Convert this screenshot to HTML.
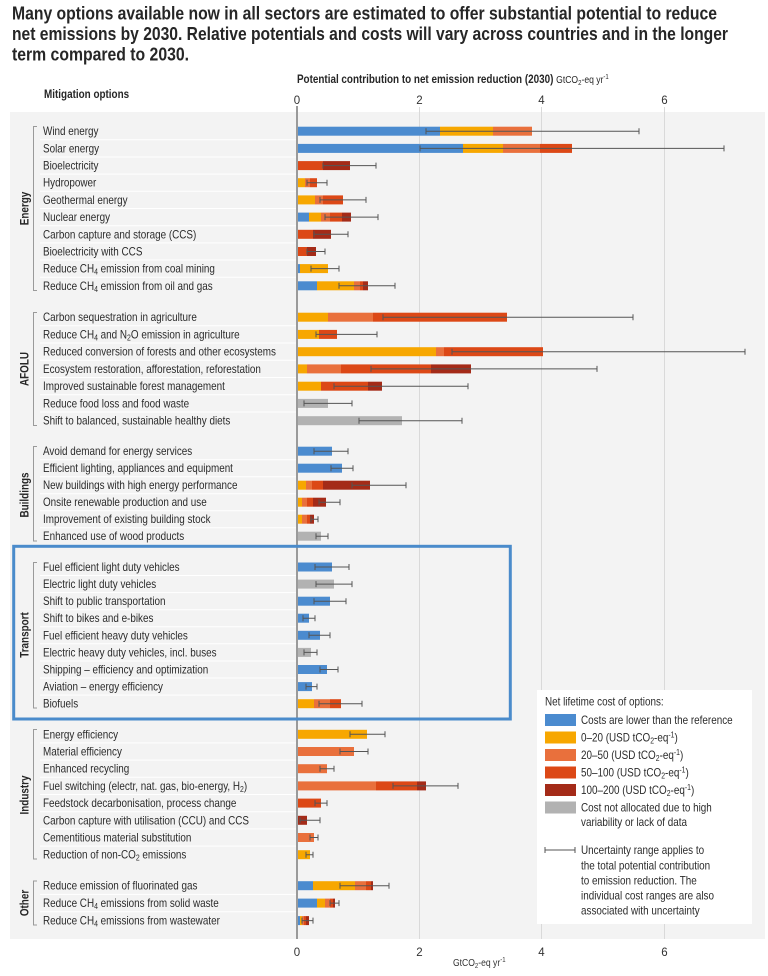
<!DOCTYPE html>
<html>
<head>
<meta charset="utf-8">
<style>
  html,body{margin:0;padding:0;background:#fff;}
  svg{display:block;}
  text{font-family:"Liberation Sans", "DejaVu Sans", sans-serif;}
</style>
</head>
<body>
<svg width="768" height="976" viewBox="0 0 768 976" xmlns="http://www.w3.org/2000/svg">
  <rect x="0" y="0" width="768" height="976" fill="#ffffff"/>

  <!-- Title -->
  <g font-weight="bold" font-size="18" fill="#262626">
    <text x="12" y="19.5" textLength="705" lengthAdjust="spacingAndGlyphs">Many options available now in all sectors are estimated to offer substantial potential to reduce</text>
    <text x="12" y="40" textLength="716" lengthAdjust="spacingAndGlyphs">net emissions by 2030. Relative potentials and costs will vary across countries and in the longer</text>
    <text x="12" y="60.5" textLength="177" lengthAdjust="spacingAndGlyphs">term compared to 2030.</text>
  </g>

  <!-- Panel -->
  <rect x="10" y="112" width="755" height="827" fill="#f3f3f3"/>

  <!-- row separators -->
  <g stroke="#ffffff" stroke-width="1">
    <line x1="40" y1="139.8" x2="296" y2="139.8"/><line x1="40" y1="157" x2="296" y2="157"/><line x1="40" y1="174.1" x2="296" y2="174.1"/><line x1="40" y1="191.3" x2="296" y2="191.3"/><line x1="40" y1="208.5" x2="296" y2="208.5"/><line x1="40" y1="225.7" x2="296" y2="225.7"/><line x1="40" y1="242.9" x2="296" y2="242.9"/><line x1="40" y1="260" x2="296" y2="260"/><line x1="40" y1="277.2" x2="296" y2="277.2"/>
    <line x1="40" y1="325.8" x2="296" y2="325.8"/><line x1="40" y1="343" x2="296" y2="343"/><line x1="40" y1="360.3" x2="296" y2="360.3"/><line x1="40" y1="377.5" x2="296" y2="377.5"/><line x1="40" y1="394.8" x2="296" y2="394.8"/><line x1="40" y1="412" x2="296" y2="412"/>
    <line x1="40" y1="459.7" x2="296" y2="459.7"/><line x1="40" y1="476.7" x2="296" y2="476.7"/><line x1="40" y1="493.7" x2="296" y2="493.7"/><line x1="40" y1="510.7" x2="296" y2="510.7"/><line x1="40" y1="527.7" x2="296" y2="527.7"/>
    <line x1="40" y1="575.5" x2="296" y2="575.5"/><line x1="40" y1="592.6" x2="296" y2="592.6"/><line x1="40" y1="609.7" x2="296" y2="609.7"/><line x1="40" y1="626.7" x2="296" y2="626.7"/><line x1="40" y1="643.8" x2="296" y2="643.8"/><line x1="40" y1="661" x2="296" y2="661"/><line x1="40" y1="678" x2="296" y2="678"/><line x1="40" y1="695.1" x2="296" y2="695.1"/>
    <line x1="40" y1="742.9" x2="296" y2="742.9"/><line x1="40" y1="760.1" x2="296" y2="760.1"/><line x1="40" y1="777.3" x2="296" y2="777.3"/><line x1="40" y1="794.5" x2="296" y2="794.5"/><line x1="40" y1="811.7" x2="296" y2="811.7"/><line x1="40" y1="828.9" x2="296" y2="828.9"/><line x1="40" y1="846.1" x2="296" y2="846.1"/>
    <line x1="40" y1="894.4" x2="296" y2="894.4"/><line x1="40" y1="911.8" x2="296" y2="911.8"/>
  </g>

  <!-- Gridlines -->
  <g stroke="#d9d9d9" stroke-width="1">
    <line x1="419.5" y1="107" x2="419.5" y2="939"/>
    <line x1="541.5" y1="107" x2="541.5" y2="939"/>
    <line x1="664.5" y1="107" x2="664.5" y2="939"/>
  </g>

  <!-- Header texts -->
  <g transform="scale(0.86 1)" fill="#262626">
    <text x="51.2" y="98" font-size="11.5" font-weight="bold">Mitigation options</text>
    <text x="345.3" y="83" font-size="11.5" font-weight="bold">Potential contribution to net emission reduction (2030) <tspan font-weight="normal" font-size="10">GtCO<tspan font-size="7" dy="2">2</tspan><tspan dy="-2">-eq yr</tspan><tspan font-size="7" dy="-4">-1</tspan></tspan></text>
  </g>
  <g font-size="11.5" fill="#333" text-anchor="middle">
    <text x="297" y="104">0</text>
    <text x="419.5" y="104">2</text>
    <text x="541.5" y="104">4</text>
    <text x="664.5" y="104">6</text>
    <text x="297" y="956">0</text>
    <text x="419.5" y="956">2</text>
    <text x="541.5" y="956">4</text>
    <text x="664.5" y="956">6</text>
  </g>
  <g transform="scale(0.86 1)" fill="#333" font-size="10">
    <text x="526.7" y="966">GtCO<tspan font-size="7" dy="2">2</tspan><tspan dy="-2">-eq yr</tspan><tspan font-size="7" dy="-4">-1</tspan></text>
  </g>

  <!-- Bars -->
  <!-- Energy -->
  <g>
    <rect x="297" y="126.7" width="143" height="9" fill="#4b8bcf"/><rect x="440" y="126.7" width="53" height="9" fill="#f7a700"/><rect x="493" y="126.7" width="39" height="9" fill="#e9703c"/>
    <rect x="297" y="143.9" width="166" height="9" fill="#4b8bcf"/><rect x="463" y="143.9" width="40" height="9" fill="#f7a700"/><rect x="503" y="143.9" width="37" height="9" fill="#e9703c"/><rect x="540" y="143.9" width="32" height="9" fill="#dc4816"/>
    <rect x="297" y="161.1" width="26" height="9" fill="#dc4816"/><rect x="323" y="161.1" width="27" height="9" fill="#a42b18"/>
    <rect x="297" y="178.2" width="8" height="9" fill="#f7a700"/><rect x="305" y="178.2" width="5" height="9" fill="#e9703c"/><rect x="310" y="178.2" width="7" height="9" fill="#dc4816"/>
    <rect x="297" y="195.4" width="18" height="9" fill="#f7a700"/><rect x="315" y="195.4" width="8" height="9" fill="#e9703c"/><rect x="323" y="195.4" width="20" height="9" fill="#dc4816"/>
    <rect x="297" y="212.6" width="12" height="9" fill="#4b8bcf"/><rect x="309" y="212.6" width="12" height="9" fill="#f7a700"/><rect x="321" y="212.6" width="9" height="9" fill="#e9703c"/><rect x="330" y="212.6" width="12" height="9" fill="#dc4816"/><rect x="342" y="212.6" width="9" height="9" fill="#a42b18"/>
    <rect x="297" y="229.8" width="16" height="9" fill="#dc4816"/><rect x="313" y="229.8" width="18" height="9" fill="#a42b18"/>
    <rect x="297" y="247" width="10" height="9" fill="#dc4816"/><rect x="307" y="247" width="9" height="9" fill="#a42b18"/>
    <rect x="297" y="264.1" width="3" height="9" fill="#4b8bcf"/><rect x="300" y="264.1" width="28" height="9" fill="#f7a700"/>
    <rect x="297" y="281.3" width="20" height="9" fill="#4b8bcf"/><rect x="317" y="281.3" width="37" height="9" fill="#f7a700"/><rect x="354" y="281.3" width="6" height="9" fill="#e9703c"/><rect x="360" y="281.3" width="3" height="9" fill="#dc4816"/><rect x="363" y="281.3" width="5" height="9" fill="#a42b18"/>
  </g>
  <!-- AFOLU -->
  <g>
    <rect x="297" y="312.7" width="31" height="9" fill="#f7a700"/><rect x="328" y="312.7" width="45" height="9" fill="#e9703c"/><rect x="373" y="312.7" width="134" height="9" fill="#dc4816"/>
    <rect x="297" y="329.9" width="22" height="9" fill="#f7a700"/><rect x="319" y="329.9" width="18" height="9" fill="#dc4816"/>
    <rect x="297" y="347.2" width="139" height="9" fill="#f7a700"/><rect x="436" y="347.2" width="8" height="9" fill="#e9703c"/><rect x="444" y="347.2" width="99" height="9" fill="#dc4816"/>
    <rect x="297" y="364.4" width="10" height="9" fill="#f7a700"/><rect x="307" y="364.4" width="34" height="9" fill="#e9703c"/><rect x="341" y="364.4" width="90" height="9" fill="#dc4816"/><rect x="431" y="364.4" width="40" height="9" fill="#a42b18"/>
    <rect x="297" y="381.7" width="24" height="9" fill="#f7a700"/><rect x="321" y="381.7" width="47" height="9" fill="#dc4816"/><rect x="368" y="381.7" width="14" height="9" fill="#a42b18"/>
    <rect x="297" y="398.9" width="31" height="9" fill="#b2b2b2"/>
    <rect x="297" y="416.2" width="105" height="9" fill="#b2b2b2"/>
  </g>
  <!-- Buildings -->
  <g>
    <rect x="297" y="446.7" width="35" height="9" fill="#4b8bcf"/>
    <rect x="297" y="463.7" width="45" height="9" fill="#4b8bcf"/>
    <rect x="297" y="480.7" width="9" height="9" fill="#f7a700"/><rect x="306" y="480.7" width="6" height="9" fill="#e9703c"/><rect x="312" y="480.7" width="11" height="9" fill="#dc4816"/><rect x="323" y="480.7" width="47" height="9" fill="#a42b18"/>
    <rect x="297" y="497.7" width="5" height="9" fill="#f7a700"/><rect x="302" y="497.7" width="5" height="9" fill="#e9703c"/><rect x="307" y="497.7" width="6" height="9" fill="#dc4816"/><rect x="313" y="497.7" width="13" height="9" fill="#a42b18"/>
    <rect x="297" y="514.7" width="5" height="9" fill="#f7a700"/><rect x="302" y="514.7" width="5" height="9" fill="#e9703c"/><rect x="307" y="514.7" width="3" height="9" fill="#dc4816"/><rect x="310" y="514.7" width="4" height="9" fill="#a42b18"/>
    <rect x="297" y="531.7" width="24" height="9" fill="#b2b2b2"/>
  </g>
  <!-- Transport -->
  <g>
    <rect x="297" y="562.5" width="35" height="9" fill="#4b8bcf"/>
    <rect x="297" y="579.6" width="37" height="9" fill="#b2b2b2"/>
    <rect x="297" y="596.7" width="33" height="9" fill="#4b8bcf"/>
    <rect x="297" y="613.7" width="12" height="9" fill="#4b8bcf"/>
    <rect x="297" y="630.8" width="23" height="9" fill="#4b8bcf"/>
    <rect x="297" y="647.9" width="14" height="9" fill="#b2b2b2"/>
    <rect x="297" y="665" width="30" height="9" fill="#4b8bcf"/>
    <rect x="297" y="682.1" width="15" height="9" fill="#4b8bcf"/>
    <rect x="297" y="699.2" width="17" height="9" fill="#f7a700"/><rect x="314" y="699.2" width="16" height="9" fill="#e9703c"/><rect x="330" y="699.2" width="11" height="9" fill="#dc4816"/>
  </g>
  <!-- Industry -->
  <g>
    <rect x="297" y="729.8" width="70" height="9" fill="#f7a700"/>
    <rect x="297" y="747" width="57" height="9" fill="#e9703c"/>
    <rect x="297" y="764.2" width="30" height="9" fill="#e9703c"/>
    <rect x="297" y="781.4" width="79" height="9" fill="#e9703c"/><rect x="376" y="781.4" width="41" height="9" fill="#dc4816"/><rect x="417" y="781.4" width="9" height="9" fill="#a42b18"/>
    <rect x="297" y="798.6" width="24" height="9" fill="#dc4816"/>
    <rect x="297" y="815.8" width="10" height="9" fill="#a42b18"/>
    <rect x="297" y="833" width="17" height="9" fill="#e9703c"/>
    <rect x="297" y="850.2" width="13" height="9" fill="#f7a700"/>
  </g>
  <!-- Other -->
  <g>
    <rect x="297" y="881.2" width="16" height="9" fill="#4b8bcf"/><rect x="313" y="881.2" width="42" height="9" fill="#f7a700"/><rect x="355" y="881.2" width="11" height="9" fill="#e9703c"/><rect x="366" y="881.2" width="5" height="9" fill="#dc4816"/><rect x="371" y="881.2" width="2" height="9" fill="#a42b18"/>
    <rect x="297" y="898.6" width="20" height="9" fill="#4b8bcf"/><rect x="317" y="898.6" width="8" height="9" fill="#f7a700"/><rect x="325" y="898.6" width="5" height="9" fill="#e9703c"/><rect x="330" y="898.6" width="3" height="9" fill="#dc4816"/><rect x="333" y="898.6" width="2" height="9" fill="#a42b18"/>
    <rect x="297" y="916.1" width="3" height="9" fill="#4b8bcf"/><rect x="300" y="916.1" width="2" height="9" fill="#f7a700"/><rect x="302" y="916.1" width="2" height="9" fill="#e9703c"/><rect x="304" y="916.1" width="2" height="9" fill="#dc4816"/><rect x="306" y="916.1" width="3" height="9" fill="#a42b18"/>
  </g>

  <!-- Zero axis -->
  <line x1="297" y1="106" x2="297" y2="939" stroke="#9a9a9a" stroke-width="2"/>

  <!-- Error bars -->
  <g stroke="#555" stroke-width="1" fill="none">
    <path d="M426 131.2H639M426 128.2V134.2M639 128.2V134.2"/>
    <path d="M420 148.4H724M420 145.4V151.4M724 145.4V151.4"/>
    <path d="M323 165.6H376M323 162.6V168.6M376 162.6V168.6"/>
    <path d="M307 182.7H327M307 179.7V185.7M327 179.7V185.7"/>
    <path d="M320 199.9H366M320 196.9V202.9M366 196.9V202.9"/>
    <path d="M325 217.1H378M325 214.1V220.1M378 214.1V220.1"/>
    <path d="M314 234.3H348M314 231.3V237.3M348 231.3V237.3"/>
    <path d="M307 251.5H325M307 248.5V254.5M325 248.5V254.5"/>
    <path d="M311 268.6H339M311 265.6V271.6M339 265.6V271.6"/>
    <path d="M339 285.8H395M339 282.8V288.8M395 282.8V288.8"/>

    <path d="M383 317.2H633M383 314.2V320.2M633 314.2V320.2"/>
    <path d="M316 334.4H377M316 331.4V337.4M377 331.4V337.4"/>
    <path d="M452 351.7H745M452 348.7V354.7M745 348.7V354.7"/>
    <path d="M371 368.9H597M371 365.9V371.9M597 365.9V371.9"/>
    <path d="M334 386.2H468M334 383.2V389.2M468 383.2V389.2"/>
    <path d="M304 403.4H352M304 400.4V406.4M352 400.4V406.4"/>
    <path d="M359 420.7H462M359 417.7V423.7M462 417.7V423.7"/>

    <path d="M314 451.2H348M314 448.2V454.2M348 448.2V454.2"/>
    <path d="M331 468.2H353M331 465.2V471.2M353 465.2V471.2"/>
    <path d="M352 485.2H406M352 482.2V488.2M406 482.2V488.2"/>
    <path d="M319 502.2H340M319 499.2V505.2M340 499.2V505.2"/>
    <path d="M311 519.2H318M311 516.2V522.2M318 516.2V522.2"/>
    <path d="M316 536.2H328M316 533.2V539.2M328 533.2V539.2"/>

    <path d="M315 567H349M315 564V570M349 564V570"/>
    <path d="M316 584.1H352M316 581.1V587.1M352 581.1V587.1"/>
    <path d="M314 601.2H346M314 598.2V604.2M346 598.2V604.2"/>
    <path d="M303 618.2H315M303 615.2V621.2M315 615.2V621.2"/>
    <path d="M309 635.3H330M309 632.3V638.3M330 632.3V638.3"/>
    <path d="M304 652.4H317M304 649.4V655.4M317 649.4V655.4"/>
    <path d="M320 669.5H338M320 666.5V672.5M338 666.5V672.5"/>
    <path d="M306 686.6H317M306 683.6V689.6M317 683.6V689.6"/>
    <path d="M319 703.7H362M319 700.7V706.7M362 700.7V706.7"/>

    <path d="M350 734.3H385M350 731.3V737.3M385 731.3V737.3"/>
    <path d="M340 751.5H368M340 748.5V754.5M368 748.5V754.5"/>
    <path d="M320 768.7H334M320 765.7V771.7M334 765.7V771.7"/>
    <path d="M393 785.9H458M393 782.9V788.9M458 782.9V788.9"/>
    <path d="M315 803.1H327M315 800.1V806.1M327 800.1V806.1"/>
    <path d="M300 820.3H320M300 817.3V823.3M320 817.3V823.3"/>
    <path d="M310 837.5H318M310 834.5V840.5M318 834.5V840.5"/>
    <path d="M306 854.7H313M306 851.7V857.7M313 851.7V857.7"/>

    <path d="M340 885.7H389M340 882.7V888.7M389 882.7V888.7"/>
    <path d="M330 903.1H339M330 900.1V906.1M339 900.1V906.1"/>
    <path d="M302 920.6H313M302 917.6V923.6M313 917.6V923.6"/>
  </g>

  <!-- Brackets -->
  <g stroke="#9a9a9a" stroke-width="1" fill="none">
    <path d="M37 126.5H33.5V290.5H37"/>
    <path d="M37 312.5H33.5V425.5H37"/>
    <path d="M37 446.5H33.5V541H37"/>
    <path d="M37 562.5H33.5V708H37"/>
    <path d="M37 729.5H33.5V859H37"/>
    <path d="M37 881H33.5V925H37"/>
  </g>

  <!-- Sector labels -->
  <g font-size="11.5" font-weight="bold" fill="#262626" text-anchor="middle">
    <text transform="translate(28.5,208.5) rotate(-90) scale(0.86,1)">Energy</text>
    <text transform="translate(28.5,369) rotate(-90) scale(0.86,1)">AFOLU</text>
    <text transform="translate(28.5,495) rotate(-90) scale(0.86,1)">Buildings</text>
    <text transform="translate(28.5,635) rotate(-90) scale(0.86,1)">Transport</text>
    <text transform="translate(28.5,795) rotate(-90) scale(0.86,1)">Industry</text>
    <text transform="translate(28.5,903) rotate(-90) scale(0.86,1)">Other</text>
  </g>

  <!-- Row labels -->
  <g transform="scale(0.86 1)" font-size="11.5" fill="#2b2b2b">
    <text x="50" y="135.2">Wind energy</text>
    <text x="50" y="152.4">Solar energy</text>
    <text x="50" y="169.6">Bioelectricity</text>
    <text x="50" y="186.7">Hydropower</text>
    <text x="50" y="203.9">Geothermal energy</text>
    <text x="50" y="221.1">Nuclear energy</text>
    <text x="50" y="238.3">Carbon capture and storage (CCS)</text>
    <text x="50" y="255.5">Bioelectricity with CCS</text>
    <text x="50" y="272.6">Reduce CH<tspan font-size="8" dy="2">4</tspan><tspan dy="-2"> emission from coal mining</tspan></text>
    <text x="50" y="289.8">Reduce CH<tspan font-size="8" dy="2">4</tspan><tspan dy="-2"> emission from oil and gas</tspan></text>

    <text x="50" y="321.2">Carbon sequestration in agriculture</text>
    <text x="50" y="338.4">Reduce CH<tspan font-size="8" dy="2">4</tspan><tspan dy="-2"> and N</tspan><tspan font-size="8" dy="2">2</tspan><tspan dy="-2">O emission in agriculture</tspan></text>
    <text x="50" y="355.7">Reduced conversion of forests and other ecosystems</text>
    <text x="50" y="372.9">Ecosystem restoration, afforestation, reforestation</text>
    <text x="50" y="390.2">Improved sustainable forest management</text>
    <text x="50" y="407.4">Reduce food loss and food waste</text>
    <text x="50" y="424.7">Shift to balanced, sustainable healthy diets</text>

    <text x="50" y="455.2">Avoid demand for energy services</text>
    <text x="50" y="472.2">Efficient lighting, appliances and equipment</text>
    <text x="50" y="489.2">New buildings with high energy performance</text>
    <text x="50" y="506.2">Onsite renewable production and use</text>
    <text x="50" y="523.2">Improvement of existing building stock</text>
    <text x="50" y="540.2">Enhanced use of wood products</text>

    <text x="50" y="571">Fuel efficient light duty vehicles</text>
    <text x="50" y="588.1">Electric light duty vehicles</text>
    <text x="50" y="605.2">Shift to public transportation</text>
    <text x="50" y="622.2">Shift to bikes and e-bikes</text>
    <text x="50" y="639.3">Fuel efficient heavy duty vehicles</text>
    <text x="50" y="656.4">Electric heavy duty vehicles, incl. buses</text>
    <text x="50" y="673.5">Shipping – efficiency and optimization</text>
    <text x="50" y="690.6">Aviation – energy efficiency</text>
    <text x="50" y="707.7">Biofuels</text>

    <text x="50" y="738.3">Energy efficiency</text>
    <text x="50" y="755.5">Material efficiency</text>
    <text x="50" y="772.7">Enhanced recycling</text>
    <text x="50" y="789.9">Fuel switching (electr, nat. gas, bio-energy, H<tspan font-size="8" dy="2">2</tspan><tspan dy="-2">)</tspan></text>
    <text x="50" y="807.1">Feedstock decarbonisation, process change</text>
    <text x="50" y="824.3">Carbon capture with utilisation (CCU) and CCS</text>
    <text x="50" y="841.5">Cementitious material substitution</text>
    <text x="50" y="858.7">Reduction of non-CO<tspan font-size="8" dy="2">2</tspan><tspan dy="-2"> emissions</tspan></text>

    <text x="50" y="889.7">Reduce emission of fluorinated gas</text>
    <text x="50" y="907.1">Reduce CH<tspan font-size="8" dy="2">4</tspan><tspan dy="-2"> emissions from solid waste</tspan></text>
    <text x="50" y="924.6">Reduce CH<tspan font-size="8" dy="2">4</tspan><tspan dy="-2"> emissions from wastewater</tspan></text>
  </g>

  <!-- Transport highlight box -->
  <rect x="13.7" y="546.3" width="496.6" height="172.7" fill="none" stroke="#4a8bcb" stroke-width="3"/>

  <!-- Legend -->
  <rect x="537" y="690" width="215" height="234" fill="#ffffff"/>
  <rect x="545" y="714" width="31" height="12" fill="#4b8bcf"/>
  <rect x="545" y="731.5" width="31" height="12" fill="#f7a700"/>
  <rect x="545" y="749" width="31" height="12" fill="#e9703c"/>
  <rect x="545" y="766.5" width="31" height="12" fill="#dc4816"/>
  <rect x="545" y="784" width="31" height="12" fill="#a42b18"/>
  <rect x="545" y="801.5" width="31" height="12" fill="#b2b2b2"/>
  <path d="M545 850H575M545 847V853M575 847V853" stroke="#555" stroke-width="1" fill="none"/>
  <g transform="scale(0.86 1)" font-size="11.5" fill="#2b2b2b">
    <text x="633.7" y="705.5">Net lifetime cost of options:</text>
    <text x="675.6" y="724">Costs are lower than the reference</text>
    <text x="675.6" y="741.5">0–20 (USD tCO<tspan font-size="8" dy="2">2</tspan><tspan dy="-2">-eq</tspan><tspan font-size="8" dy="-4">-1</tspan><tspan dy="4">)</tspan></text>
    <text x="675.6" y="759">20–50 (USD tCO<tspan font-size="8" dy="2">2</tspan><tspan dy="-2">-eq</tspan><tspan font-size="8" dy="-4">-1</tspan><tspan dy="4">)</tspan></text>
    <text x="675.6" y="776.5">50–100 (USD tCO<tspan font-size="8" dy="2">2</tspan><tspan dy="-2">-eq</tspan><tspan font-size="8" dy="-4">-1</tspan><tspan dy="4">)</tspan></text>
    <text x="675.6" y="794">100–200 (USD tCO<tspan font-size="8" dy="2">2</tspan><tspan dy="-2">-eq</tspan><tspan font-size="8" dy="-4">-1</tspan><tspan dy="4">)</tspan></text>
    <text x="675.6" y="811.5">Cost not allocated due to high</text>
    <text x="675.6" y="826">variability or lack of data</text>
    <text x="675.6" y="854">Uncertainty range applies to</text>
    <text x="675.6" y="869.5">the total potential contribution</text>
    <text x="675.6" y="884.5">to emission reduction. The</text>
    <text x="675.6" y="899.5">individual cost ranges are also</text>
    <text x="675.6" y="914.5">associated with uncertainty</text>
  </g>
</svg>
</body>
</html>
